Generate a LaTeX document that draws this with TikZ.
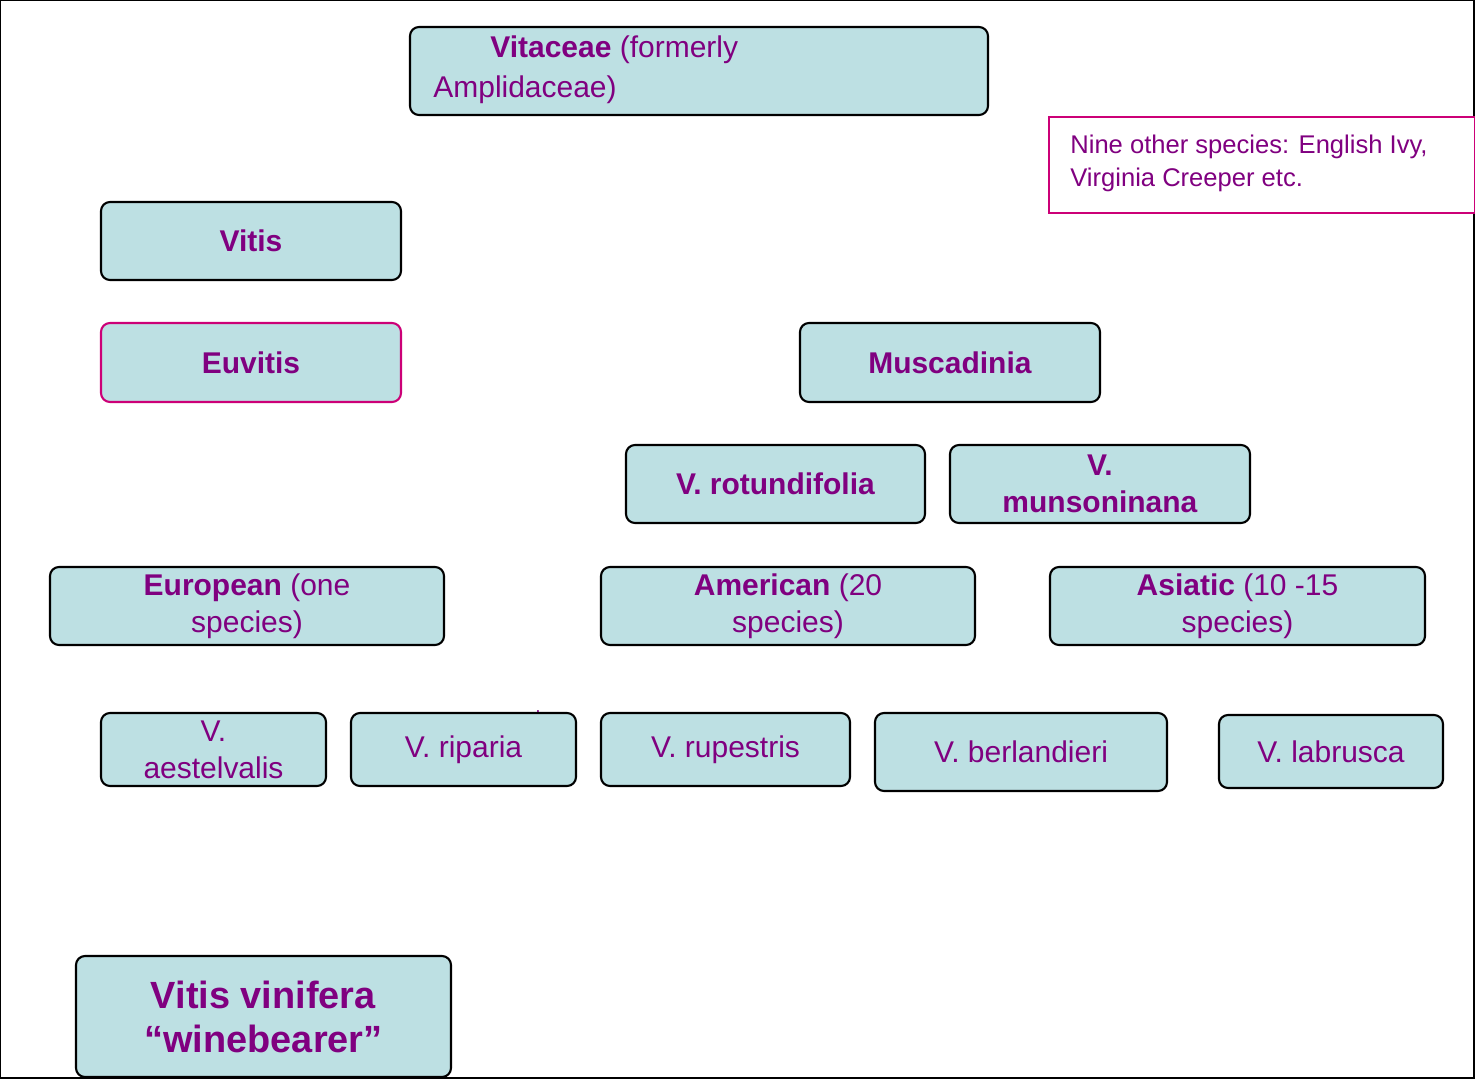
\documentclass[tikz,border=0pt]{standalone}
\usepackage{fontspec}
\setmainfont{Liberation Sans}
\definecolor{tpurple}{HTML}{800080}
\definecolor{tfill}{HTML}{BDE0E3}
\definecolor{tmag}{HTML}{CC0077}
\tikzset{
  box/.style={draw=black, fill=tfill, rounded corners=9pt*0.567, line width=1.2pt, inner sep=0pt, align=center, text=tpurple, font=\fontsize{17}{21}\selectfont},
  lbl/.style={text=tpurple, inner sep=0pt, anchor=base west, font=\fontsize{17}{21}\selectfont}
}
\newcommand{\bx}[7][]{%
  \pgfmathsetmacro{\bxwd}{(#5-#3)*0.567}\pgfmathsetmacro{\bxht}{(#6-#4)*0.567}%
  \node[box, minimum width=\bxwd pt, minimum height=\bxht pt, #1] (#2) at ({(#3+#5)/2},{(#4+#6)/2}) {#7};}
\begin{document}
\begin{tikzpicture}[x=0.567pt,y=-0.567pt]
\useasboundingbox (0,0) rectangle (1475,1083);
\draw[line width=0.8pt] (0,0) -- (1474,0) -- (1474,1078) -- (0,1078) -- cycle;
\bx{vit}{410}{27}{988}{115}{}
\node[lbl] (vit1) at (490,57) {\textbf{Vitaceae} (formerly};
\node[lbl] (vit2) at (433,97) {Amplidaceae)};
\node[draw=tmag, line width=1pt, fill=white, minimum width={426*0.567pt}, minimum height={96*0.567pt}] (nine) at (1262,165) {};
\node[lbl, font=\fontsize{14.5}{18}\selectfont] (n1) at (1070,153) {Nine other species: English Ivy,};
\node[lbl, font=\fontsize{14.5}{18}\selectfont] (n2) at (1070,186) {Virginia Creeper etc.};
\bx{vitis}{101}{202}{401}{280}{\textbf{Vitis}}
\bx[draw=tmag]{euv}{101}{323}{401}{402}{\textbf{Euvitis}}
\bx{mus}{800}{323}{1100}{402}{\textbf{Muscadinia}}
\bx{rot}{626}{445}{925}{523}{\textbf{V. rotundifolia}}
\bx{mun}{950}{445}{1250}{523}{\textbf{V.}\\\textbf{munsoninana}}
\bx{eur}{50}{567}{444}{645}{\textbf{European} (one\\species)}
\bx{ame}{601}{567}{975}{645}{\textbf{American} (20\\species)}
\bx{asi}{1050}{567}{1425}{645}{\textbf{Asiatic} (10 -15\\species)}
\bx{aes}{101}{713}{326}{786}{V.\\aestelvalis}
\bx{rip}{351}{713}{576}{786}{V. riparia}
\node[text=tpurple, inner sep=0pt] (dot) at (538,712) {.};
\bx{rup}{601}{713}{850}{786}{V. rupestris}
\bx{ber}{875}{713}{1167}{791}{V. berlandieri}
\bx{lab}{1219}{715}{1443}{788}{V. labrusca}
\bx[font=\fontsize{21.5}{25}\selectfont]{vin}{76}{956}{451}{1077}{\textbf{Vitis vinifera}\\\textbf{“winebearer”}}
\end{tikzpicture}
\end{document}
